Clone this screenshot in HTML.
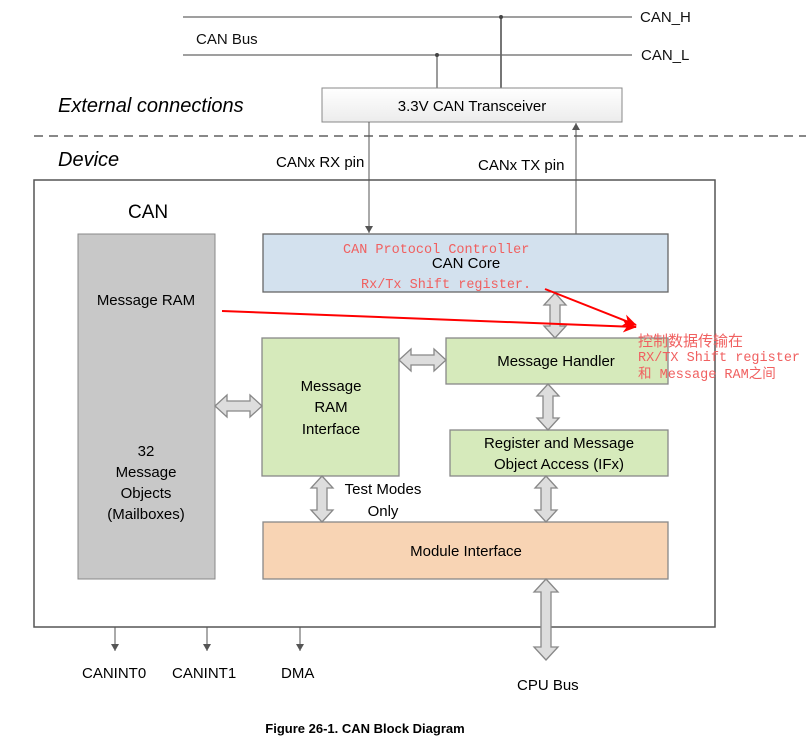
<!DOCTYPE html>
<html><head><meta charset="utf-8"><style>
html,body{margin:0;padding:0;background:#fff;}
svg{display:block;font-family:"Liberation Sans","Noto Sans CJK SC",sans-serif;}
.m{font-family:"Liberation Mono","Noto Sans CJK SC",monospace;fill:#f06060;font-size:13.5px;}
</style></head><body>
<svg width="806" height="756" viewBox="0 0 806 756" xmlns="http://www.w3.org/2000/svg">
<defs>
<linearGradient id="tg" x1="0" y1="0" x2="0" y2="1"><stop offset="0" stop-color="#fff"/><stop offset="1" stop-color="#ececec"/></linearGradient>
<marker id="ah" markerWidth="8" markerHeight="8" refX="7" refY="4" orient="auto" markerUnits="userSpaceOnUse"><path d="M0,0 L7,4 L0,8z" fill="#555"/></marker>
<marker id="ra" markerWidth="14" markerHeight="12" refX="13" refY="6" orient="auto" markerUnits="userSpaceOnUse"><path d="M0,0 L14,6 L0,12 L4,6z" fill="#f00"/></marker>
</defs>
<g stroke="#666" stroke-width="1.3">
<line x1="183" y1="17" x2="632" y2="17"/>
<line x1="183" y1="55" x2="632" y2="55"/>
<line x1="501" y1="17" x2="501" y2="88" stroke-width="1.8"/>
<line x1="437" y1="55" x2="437" y2="88"/>
</g>
<circle cx="501" cy="17" r="2" fill="#444"/><circle cx="437" cy="55" r="2" fill="#444"/>
<g font-size="15" fill="#111">
<text x="640" y="22">CAN_H</text>
<text x="641" y="60">CAN_L</text>
<text x="196" y="44">CAN Bus</text>
</g>
<rect x="322" y="88" width="300" height="34" fill="url(#tg)" stroke="#888"/>
<text x="472" y="111" font-size="15" text-anchor="middle">3.3V CAN Transceiver</text>
<text x="58" y="112" font-size="20" font-style="italic">External connections</text>
<line x1="34" y1="136" x2="806" y2="136" stroke="#888" stroke-width="2" stroke-dasharray="9,6"/>
<text x="58" y="166" font-size="20" font-style="italic">Device</text>
<rect x="34" y="180" width="681" height="447" fill="#fff" stroke="#555" stroke-width="1.5"/>
<text x="276" y="167" font-size="15">CANx RX pin</text>
<text x="478" y="170" font-size="15">CANx TX pin</text>
<line x1="369" y1="122" x2="369" y2="233" stroke="#555" marker-end="url(#ah)"/>
<line x1="576" y1="234" x2="576" y2="123" stroke="#555" marker-end="url(#ah)"/>
<text x="128" y="218" font-size="19">CAN</text>
<rect x="78" y="234" width="137" height="345" fill="#c8c8c8" stroke="#888"/>
<text x="146" y="305" font-size="15" text-anchor="middle">Message RAM</text>
<g font-size="15" text-anchor="middle"><text x="146" y="456">32</text><text x="146" y="477">Message</text><text x="146" y="498">Objects</text><text x="146" y="519">(Mailboxes)</text></g>
<rect x="263" y="234" width="405" height="58" fill="#d3e1ee" stroke="#666" stroke-width="1.3"/>
<text x="466" y="268" font-size="15" text-anchor="middle">CAN Core</text>
<text x="343" y="253" class="m">CAN Protocol Controller</text>
<text x="361" y="288" class="m">Rx/Tx Shift register.</text>
<g fill="#d6eabb" stroke="#888" stroke-width="1.3">
<rect x="262" y="338" width="137" height="138"/>
<rect x="446" y="338" width="222" height="46"/>
<rect x="450" y="430" width="218" height="46"/>
</g>
<rect x="263" y="522" width="405" height="57" fill="#f8d4b4" stroke="#888" stroke-width="1.3"/>
<g font-size="15" text-anchor="middle">
<text x="331" y="391">Message</text><text x="331" y="412">RAM</text><text x="331" y="434">Interface</text>
<text x="556" y="366">Message Handler</text>
<text x="559" y="448">Register and Message</text><text x="559" y="469">Object Access (IFx)</text>
<text x="466" y="556">Module Interface</text>
<text x="383" y="494">Test Modes</text><text x="383" y="516">Only</text>
</g>
<g fill="#ddd" stroke="#888" stroke-width="1.3">
<path d="M555,293 L566,305 L560,305 L560,326 L566,326 L555,338 L544,326 L550,326 L550,305 L544,305z"/>
<path d="M548,384 L559,396 L553,396 L553,418 L559,418 L548,430 L537,418 L543,418 L543,396 L537,396z"/>
<path d="M322,476 L333,488 L327,488 L327,510 L333,510 L322,522 L311,510 L317,510 L317,488 L311,488z"/>
<path d="M546,476 L557,488 L551,488 L551,510 L557,510 L546,522 L535,510 L541,510 L541,488 L535,488z"/>
<path d="M546,579 L558,592 L551,592 L551,647 L558,647 L546,660 L534,647 L541,647 L541,592 L534,592z"/>
<path d="M399,360 L411,349 L411,355 L434,355 L434,349 L446,360 L434,371 L434,365 L411,365 L411,371z"/>
<path d="M215,406 L227,395 L227,401 L250,401 L250,395 L262,406 L250,417 L250,411 L227,411 L227,417z"/>
</g>
<g stroke="#555">
<line x1="115" y1="627" x2="115" y2="651" marker-end="url(#ah)"/>
<line x1="207" y1="627" x2="207" y2="651" marker-end="url(#ah)"/>
<line x1="300" y1="627" x2="300" y2="651" marker-end="url(#ah)"/>
</g>
<g font-size="15">
<text x="82" y="678">CANINT0</text><text x="172" y="678">CANINT1</text><text x="281" y="678">DMA</text>
<text x="517" y="690">CPU Bus</text>
</g>
<text x="365" y="733" font-size="13" font-weight="bold" text-anchor="middle">Figure 26-1. CAN Block Diagram</text>
<line x1="222" y1="311" x2="636" y2="327" stroke="#f00" stroke-width="2" marker-end="url(#ra)"/>
<line x1="545" y1="289" x2="636" y2="325" stroke="#f00" stroke-width="2" marker-end="url(#ra)"/>
<text x="638" y="346" class="m" style="font-size:15px">控制数据传输在</text>
<text x="638" y="361" class="m">RX/TX Shift register</text>
<text x="638" y="378" class="m">和 Message RAM之间</text>
</svg>
</body></html>
